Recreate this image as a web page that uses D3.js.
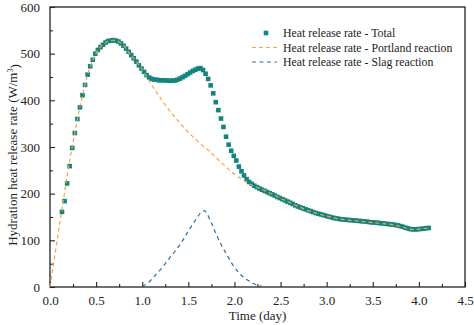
<!DOCTYPE html>
<html>
<head>
<meta charset="utf-8">
<script src="https://cdn.jsdelivr.net/npm/d3@7"></script>
<style>
  body { margin: 0; background: #fff; }
  svg { display: block; font-family: "Liberation Serif", "Times New Roman", serif; }
</style>
</head>
<body>
<div id="chart"></div>
<script>
// Total heat release rate (markers)
const totalTime = [
  0.130, 0.158, 0.186, 0.213, 0.241, 0.269, 0.297, 0.325, 0.352, 0.380,
  0.408, 0.436, 0.464, 0.491, 0.519, 0.547, 0.575, 0.603, 0.630, 0.658,
  0.686, 0.714, 0.742, 0.769, 0.797, 0.825, 0.853, 0.881, 0.908, 0.936,
  0.964, 0.992, 1.020, 1.047, 1.075, 1.103, 1.131, 1.159, 1.186, 1.214,
  1.242, 1.270, 1.298, 1.325, 1.353, 1.381, 1.409, 1.437, 1.464, 1.492,
  1.520, 1.548, 1.576, 1.603, 1.631, 1.659, 1.687, 1.715, 1.742, 1.770,
  1.798, 1.826, 1.854, 1.881, 1.909, 1.937, 1.965, 1.993, 2.020, 2.048,
  2.076, 2.104, 2.132, 2.159, 2.187, 2.215, 2.243, 2.271, 2.298, 2.326,
  2.354, 2.382, 2.410, 2.437, 2.465, 2.493, 2.521, 2.549, 2.576, 2.604,
  2.632, 2.660, 2.688, 2.715, 2.743, 2.771, 2.799, 2.827, 2.854, 2.882,
  2.910, 2.938, 2.966, 2.993, 3.021, 3.049, 3.077, 3.105, 3.132, 3.160,
  3.188, 3.216, 3.244, 3.271, 3.299, 3.327, 3.355, 3.383, 3.410, 3.438,
  3.466, 3.494, 3.522, 3.549, 3.577, 3.605, 3.633, 3.661, 3.688, 3.716,
  3.744, 3.772, 3.800, 3.827, 3.855, 3.883, 3.911, 3.939, 3.966, 3.994,
  4.022, 4.050, 4.078, 4.106
];
const totalRate = [
  161, 184, 222, 259, 298, 330, 360, 385, 411, 433,
  455, 473, 487, 500, 508, 514, 519, 524, 527, 528,
  529, 528, 526, 522, 517, 511, 504, 497, 490, 483,
  475, 468, 461, 454, 449, 446, 444.5, 444, 443, 443,
  443, 442.5, 442, 442, 442.5, 444, 446.5, 449.5, 452.5, 456,
  459.5, 463, 465.5, 468, 469, 465, 457, 446, 432, 415,
  396, 379, 361, 343, 322, 305, 292, 281, 271, 258,
  248, 239, 231, 225, 221, 217, 214, 211, 208.5, 206,
  203.5, 201, 198.5, 196, 193, 190.5, 188, 185.5, 183, 180.5,
  178, 175, 172.5, 170.5, 168.5, 166.5, 164.5, 162.5, 160.5, 158.5,
  157, 155.5, 154, 152.5, 151, 149.5, 148, 147, 146, 145,
  144.5, 144, 143.5, 143, 142.5, 142, 141.5, 141, 140.5, 140,
  139, 138.5, 138, 137.5, 137, 136.5, 135.5, 135, 134.5, 134,
  133, 132, 130.5, 129, 127, 125.5, 124, 123.5, 123.5, 124,
  124.5, 125, 126, 126.5
];

// Portland reaction (orange dashed)
const portlandTime = [
  0, 0.05, 0.1, 0.15, 0.2, 0.25, 0.3, 0.35, 0.4, 0.45,
  0.5, 0.55, 0.6, 0.65, 0.7, 0.75, 0.8, 0.85, 0.9, 0.95,
  1.0, 1.05, 1.1, 1.15, 1.2, 1.25, 1.3, 1.35, 1.4, 1.45,
  1.5, 1.55, 1.6, 1.65, 1.7, 1.75, 1.8, 1.85, 1.9, 1.95,
  2.0, 2.05, 2.1, 2.15, 2.2, 2.25, 2.3, 2.4, 2.5, 2.6,
  2.7, 2.8, 2.9, 3.0, 3.1, 3.2, 3.3, 3.4, 3.5, 3.6,
  3.7, 3.8, 3.85, 3.9, 3.95, 4.0, 4.05, 4.1, 4.13
];
const portlandRate = [
  0, 65, 128, 192, 255, 310, 362, 409, 449, 479,
  501, 515, 523, 528, 528.5, 525, 517, 504, 492, 479,
  466, 450, 434, 419, 404, 390, 377, 365, 353, 342,
  331, 322, 313, 304, 296, 287, 277, 268, 259, 250,
  242, 235, 228, 222, 217, 213, 209, 200, 190, 181,
  172, 164, 157, 152, 147, 144, 142, 140, 138, 136,
  134, 130, 127, 124, 123, 124, 125, 126, 126
];

// Slag reaction (blue dashed)
const slagTime = [
  1.0, 1.05, 1.1, 1.15, 1.2, 1.25, 1.3, 1.35, 1.4, 1.45,
  1.5, 1.55, 1.6, 1.65, 1.68, 1.7, 1.75, 1.8, 1.85, 1.9,
  1.95, 2.0, 2.05, 2.1, 2.15, 2.2, 2.25, 2.3
];
const slagRate = [
  2, 7, 16, 27, 38, 50, 63, 75, 88, 103,
  120, 135, 150, 162, 163, 158, 137, 114, 93, 75,
  58, 42, 30, 21, 14, 8, 4, 1
];

const xTicks = [0, 0.5, 1, 1.5, 2, 2.5, 3, 3.5, 4, 4.5];
const yTicks = [0, 100, 200, 300, 400, 500, 600];
const legendLabels = [
  "Heat release rate - Total",
  "Heat release rate - Portland reaction",
  "Heat release rate - Slag reaction"
];

const width = 474;
const height = 325;
const margin = { top: 7, right: 9, bottom: 38, left: 50 };
const innerW = width - margin.left - margin.right;
const innerH = height - margin.top - margin.bottom;

const teal = "#12857f";
const orange = "#f4a24e";
const blue = "#2f6d9c";

const svg = d3.select("#chart")
  .append("svg")
  .attr("width", width)
  .attr("height", height);

const g = svg.append("g")
  .attr("transform", `translate(${margin.left},${margin.top})`);

const x = d3.scaleLinear().domain([0, 4.5]).range([0, innerW]);
const y = d3.scaleLinear().domain([0, 600]).range([innerH, 0]);

// minor ticks
g.append("g")
  .attr("transform", `translate(0,${innerH})`)
  .call(d3.axisBottom(x).tickValues(d3.range(0.25, 4.5, 0.5)).tickSize(-3).tickFormat(""))
  .call(a => a.select(".domain").remove())
  .selectAll("line").attr("stroke", "#222").attr("stroke-width", 1.1);

g.append("g")
  .call(d3.axisLeft(y).tickValues(d3.range(50, 600, 100)).tickSize(-3).tickFormat(""))
  .call(a => a.select(".domain").remove())
  .selectAll("line").attr("stroke", "#222").attr("stroke-width", 1.1);

// major ticks
const xAxis = g.append("g")
  .attr("transform", `translate(0,${innerH})`)
  .call(d3.axisBottom(x).tickValues(xTicks).tickSize(-5).tickPadding(9).tickFormat(d3.format(".1f")));
xAxis.select(".domain").remove();
xAxis.selectAll("line").attr("stroke", "#222").attr("stroke-width", 1.1);
xAxis.selectAll("text")
  .attr("fill", "#222")
  .style("font-size", "13px")
  .style("font-family", "Liberation Serif, serif");

const yAxis = g.append("g")
  .call(d3.axisLeft(y).tickValues(yTicks).tickSize(-5).tickPadding(10));
yAxis.select(".domain").remove();
yAxis.selectAll("line").attr("stroke", "#222").attr("stroke-width", 1.1);
yAxis.selectAll("text")
  .attr("fill", "#222")
  .style("font-size", "13px")
  .style("font-family", "Liberation Serif, serif");

// frame
g.append("rect")
  .attr("x", 0).attr("y", 0)
  .attr("width", innerW).attr("height", innerH)
  .attr("fill", "none")
  .attr("stroke", "#222")
  .attr("stroke-width", 1.3);

const plot = g.append("g");

// total markers
const ms = 4.6;
plot.selectAll("rect.total")
  .data(totalTime)
  .enter()
  .append("rect")
  .attr("class", "total")
  .attr("x", (d, i) => x(d) - ms / 2)
  .attr("y", (d, i) => y(totalRate[i]) - ms / 2)
  .attr("width", ms)
  .attr("height", ms)
  .attr("fill", teal);

const line = d3.line()
  .x(d => x(d[0]))
  .y(d => y(d[1]))
  .curve(d3.curveMonotoneX);

plot.append("path")
  .datum(portlandTime.map((t, i) => [t, portlandRate[i]]))
  .attr("d", line)
  .attr("fill", "none")
  .attr("stroke", orange)
  .attr("stroke-width", 1.2)
  .attr("stroke-dasharray", "4,3");

plot.append("path")
  .datum(slagTime.map((t, i) => [t, slagRate[i]]))
  .attr("d", line)
  .attr("fill", "none")
  .attr("stroke", blue)
  .attr("stroke-width", 1.2)
  .attr("stroke-dasharray", "4,3.5");

// legend
const legend = svg.append("g");
const legendY = [33, 47.5, 62];
legend.append("rect")
  .attr("x", 266 - 2.3).attr("y", legendY[0] - 2.3)
  .attr("width", ms).attr("height", ms)
  .attr("fill", teal);
legend.append("line")
  .attr("x1", 252).attr("x2", 277)
  .attr("y1", legendY[1]).attr("y2", legendY[1])
  .attr("stroke", orange).attr("stroke-width", 1.2)
  .attr("stroke-dasharray", "4,3");
legend.append("line")
  .attr("x1", 252).attr("x2", 277)
  .attr("y1", legendY[2]).attr("y2", legendY[2])
  .attr("stroke", blue).attr("stroke-width", 1.2)
  .attr("stroke-dasharray", "4,3.5");
legend.selectAll("text")
  .data(legendLabels)
  .enter()
  .append("text")
  .attr("x", 283)
  .attr("y", (d, i) => legendY[i])
  .attr("dy", "0.35em")
  .attr("fill", "#222")
  .style("font-size", "11.8px")
  .text(d => d);

// axis titles
svg.append("text")
  .attr("x", margin.left + innerW / 2)
  .attr("y", 320)
  .attr("text-anchor", "middle")
  .attr("fill", "#222")
  .style("font-size", "13px")
  .text("Time (day)");

const yTitle = svg.append("text")
  .attr("transform", `translate(17,${margin.top + innerH / 2 + 8}) rotate(-90)`)
  .attr("text-anchor", "middle")
  .attr("fill", "#222")
  .style("font-size", "13px");
yTitle.append("tspan").text("Hydration heat release rate (W/m");
yTitle.append("tspan").attr("dy", "-0.45em").style("font-size", "8px").text("3");
yTitle.append("tspan").attr("dy", "0.45em").text(")");
</script>
</body>
</html>
